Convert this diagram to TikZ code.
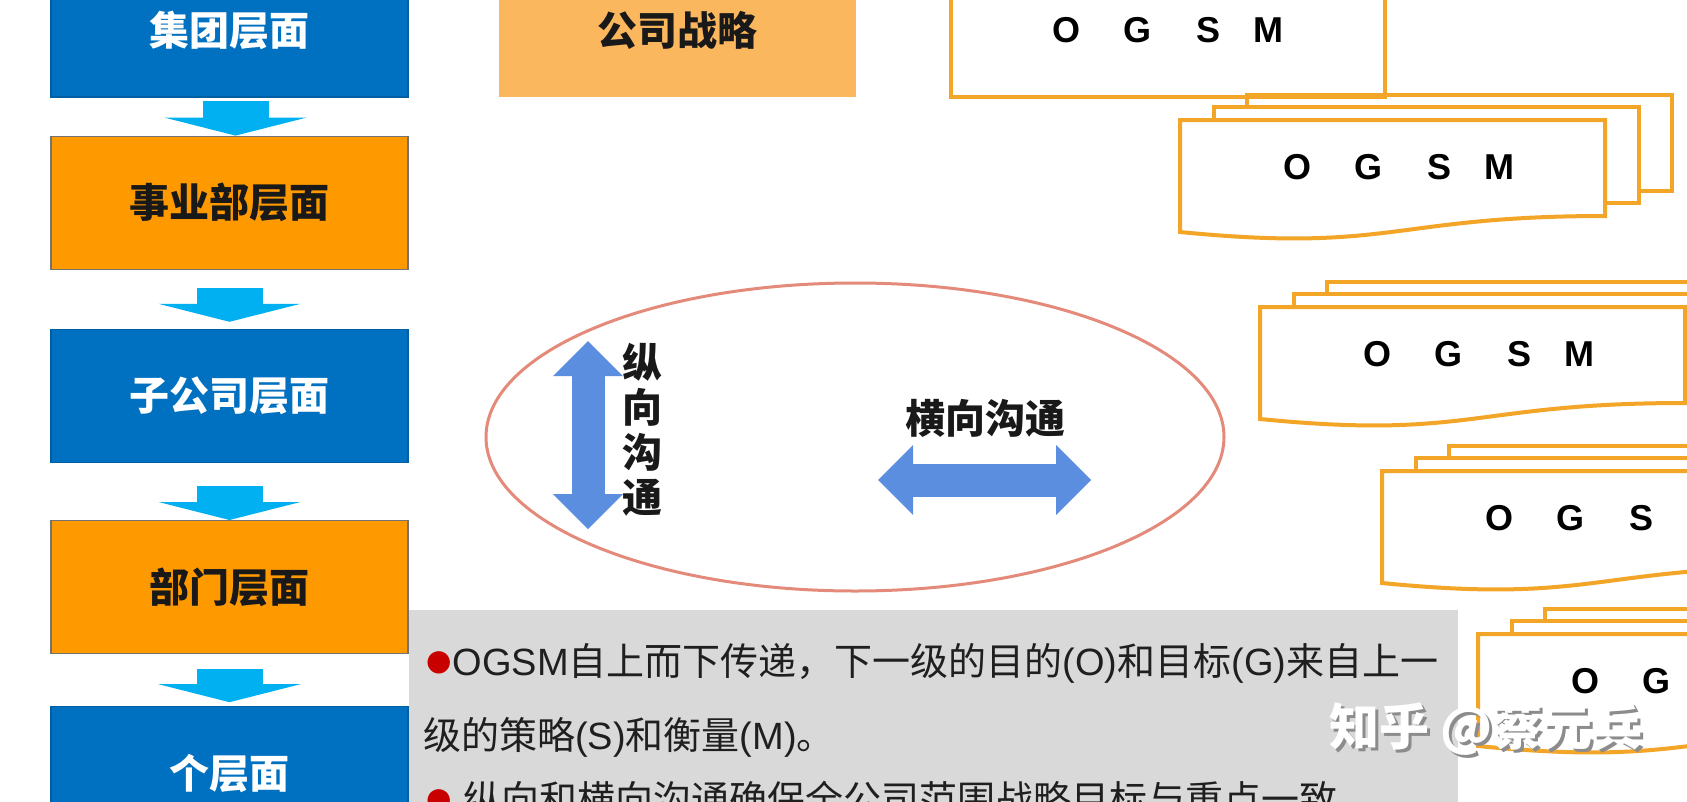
\documentclass[tikz,border=0pt]{standalone}
\usepackage{fontspec}
\usepackage[dvipsnames]{xcolor}
\setmainfont{Liberation Sans}
\newfontfamily\cjk{Noto Sans CJK SC}
\newfontfamily\lat{Liberation Sans}
\usetikzlibrary{positioning,shapes.geometric,arrows.meta}

\definecolor{levelblue}{RGB}{0,112,192}
\definecolor{levelorange}{RGB}{255,153,0}
\definecolor{stratorange}{RGB}{251,183,93}
\definecolor{arrowcyan}{RGB}{0,176,240}
\definecolor{commblue}{RGB}{91,142,222}
\definecolor{ringred}{RGB}{228,138,122}
\definecolor{ogsmorange}{RGB}{243,165,40}
\definecolor{panelgray}{RGB}{217,217,217}
\definecolor{bulletred}{RGB}{200,0,0}

\newcommand{\ogsmletters}{O\hspace{43pt}G\hspace{45pt}S\hspace{33pt}M}
\newcommand{\notebullet}{{\lat\fontsize{52}{52}\selectfont\color{bulletred}\kern-5pt\raisebox{-2pt}{●}\kern-2pt}}

\tikzset{
  leveltip/.tip={Triangle[length=18pt 0 0,width=142pt 0 0,line width=0pt 0 0]},
  commtip/.tip={Triangle[length=35pt 0 0,width=70pt 0 0,line width=0pt 0 0]},
  pics/ogsm stack/.style={code={
    \draw[sheet] (67,-25) rectangle ++(425,96);
    \draw[sheet] (34,-13) rectangle ++(425,96);
    \draw[sheet] (0,0) -- (425,0) -- (425,96) .. controls (212,96) and (212,133) .. (0,112) -- cycle;
    \node[ogsm text, anchor=west] (-label) at (#1,47) {\ogsmletters};
  }},
  pics/ogsm stack/.default=103
}

\begin{document}
\begin{tikzpicture}[x=1pt, y=-1pt, node distance=38pt,
    level box/.style={rectangle, minimum width=357pt, minimum height=133pt, inner sep=0pt, line width=1.2pt, font=\cjk\bfseries\fontsize{40}{48}\selectfont},
    blue level/.style={level box, fill=levelblue, draw=levelblue!85!black, text=white},
    orange level/.style={level box, fill=levelorange, draw=black!55, text=black!90},
    level arrow/.style={draw=arrowcyan, line width=66pt, -leveltip},
    comm arrow/.style={draw=commblue, line width=33pt, commtip-commtip},
    sheet/.style={draw=ogsmorange, fill=white, line width=4pt, line join=miter},
    ogsm text/.style={inner sep=0pt, font=\bfseries\fontsize{36}{40}\selectfont},
    label text/.style={font=\cjk\bfseries\fontsize{40}{45}\selectfont, align=center, text=black!90},
    body text/.style={inner sep=0pt, anchor=base west, font=\cjk\fontsize{38}{46}\selectfont, text=black!88},
    wm text/.style={font=\cjk\bfseries\fontsize{50}{56}\selectfont}]
    \fill[white] (0,0) rectangle (1687,801);
    \useasboundingbox (0,0) rectangle (1687,801);

    % levels
    \node[blue level] (group) at (229.5,30.5) {集团层面};
    \node[orange level] (division) [below=38pt of group] {事业部层面};
    \node[blue level] (subsidiary) [below=59pt of division] {子公司层面};
    \node[orange level] (department) [below=57pt of subsidiary] {部门层面};
    \node[blue level] (individual) [below=52pt of department] {个层面};

    \draw[level arrow, shorten <=3pt] ([xshift=6pt]group.south) -- ([xshift=6pt]division.north);
    \draw[level arrow, shorten <=18pt, shorten >=7pt] (division) -- (subsidiary);
    \draw[level arrow, shorten <=23pt] (subsidiary) -- (department);
    \draw[level arrow, shorten <=15pt, shorten >=4pt] (department) -- (individual);

    % top row
    \node[level box, fill=stratorange, text=black!90] (strategy) [right=90pt of group] {公司战略};

    \pic (stackA) at (1180,120) {ogsm stack};
    \pic (stackB) at (1260,307) {ogsm stack};
    \pic (stackC) at (1382,471) {ogsm stack};
    \pic (stackD) at (1478,634) {ogsm stack=93};

    \node[ogsm text, draw=ogsmorange, line width=4pt, minimum width=434pt, minimum height=133pt] (topogsm) [right=92pt of strategy] {\ogsmletters};

    % communication
    \node[draw=ringred, line width=3pt, ellipse, minimum width=738pt, minimum height=308pt] (comm) at (855,437) {};
    \coordinate (vtop) at (588,341);
    \coordinate (vbot) at (588,529);
    \coordinate (hleft) at (878,480);
    \coordinate (hright) at (1091,480);
    \draw[comm arrow] (vtop) -- (vbot);
    \draw[comm arrow] (hleft) -- (hright);
    \node[label text] (vlabel) at (642,430) {纵\\向\\沟\\通};
    \node[label text] (hlabel) at (985,418) {横向沟通};

    % notes
    \node[fill=panelgray, minimum width=1049pt, minimum height=220pt, inner sep=0pt, anchor=north west] (panel) at (409,610) {};
    \node[body text] (line1) at (428,675) {\notebullet{\lat OGSM}自上而下传递，下一级的目的{\lat (O)}和目标{\lat (G)}来自上一};
    \node[body text] (line2) at (423,749) {级的策略{\lat (S)}和衡量{\lat (M)}。};
    \node[body text] (line3) at (428,813) {\notebullet{\lat\ }纵向和横向沟通确保全公司范围战略目标与重点一致};

    \node[wm text, text=black!45] (wmshadow) at (1489,732) {知乎 @蔡元兵};
    \node[wm text, text=white] (wm) at (1486,729) {知乎 @蔡元兵};
\end{tikzpicture}
\end{document}
